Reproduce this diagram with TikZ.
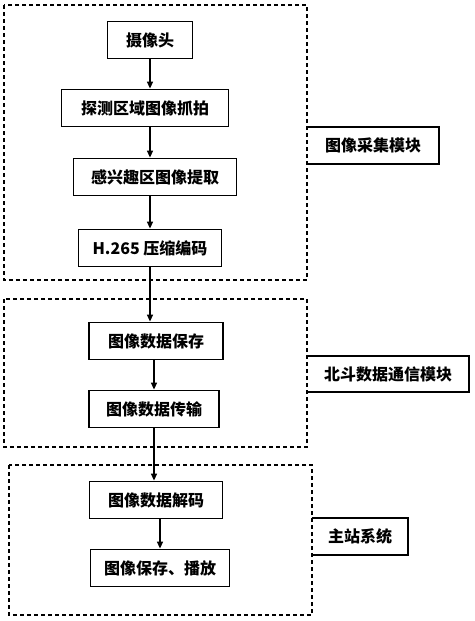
\documentclass[tikz,border=0pt]{standalone}
\usepackage{fontspec}
\newfontfamily\cjk{Noto Sans CJK SC}
\usetikzlibrary{arrows.meta}

\tikzset{
  stepbox/.style={draw, line width=1.8pt, minimum height=37pt, inner sep=0pt,
    font=\cjk\bfseries\fontsize{16}{16}\selectfont},
  group/.style={draw, dash pattern=on 4pt off 3pt, line width=1.4pt},
  tag/.style={minimum height=36pt, inner sep=0pt,
    font=\cjk\bfseries\fontsize{16}{16}\selectfont},
  arr/.style={-{Triangle[length=7pt,width=6pt]}, line width=1.4pt}
}

\begin{document}
\begin{tikzpicture}[x=1pt,y=-1pt]
  \useasboundingbox (0,0) rectangle (474,621);

  % dashed groups
  \draw[group] (4,5) rectangle (307,280);
  \draw[group] (4,299) rectangle (307,447);
  \draw[group] (9,465) rectangle (312,615);

  % steps
  \node[stepbox, minimum width=85pt] (cam) at (150,40) {摄像头};
  \node[stepbox, minimum width=167pt] (snap) at (145,108) {探测区域图像抓拍};
  \node[stepbox, minimum width=163pt] (roi) at (155,177) {感兴趣区图像提取};
  \node[stepbox, minimum width=143pt] (enc) at (150,248) {H.265 压缩编码};
  \node[stepbox, minimum width=134pt] (save) at (156,341) {图像数据保存};
  \node[stepbox, minimum width=130pt] (send) at (154,409) {图像数据传输};
  \node[stepbox, minimum width=133pt] (dec) at (156,500) {图像数据解码};
  \node[stepbox, minimum width=139pt] (play) at (160,568) {图像保存、播放};

  % module names
  \node[tag, minimum width=132pt] (acq) at (373,145.5) {图像采集模块};
  \node[tag, minimum width=162pt] (bds) at (388,374) {北斗数据通信模块};
  \node[tag, minimum width=96pt] (host) at (360,536.5) {主站系统};
  \foreach \t in {acq,bds,host}
    \draw[line width=1.8pt] (\t.north west) -- (\t.north east) -- (\t.south east) -- (\t.south west);

  % arrows
  \draw[arr] (cam.south) -- (cam |- snap.north);
  \draw[arr] (cam |- snap.south) -- (cam |- roi.north);
  \draw[arr] (enc |- roi.south) -- (enc.north);
  \draw[arr] (enc.south) -- (enc |- save.north);
  \draw[arr] (send |- save.south) -- (send.north);
  \draw[arr] (send.south) -- (send |- dec.north);
  \draw[arr] (play |- dec.south) -- (play.north);
\end{tikzpicture}
\end{document}
